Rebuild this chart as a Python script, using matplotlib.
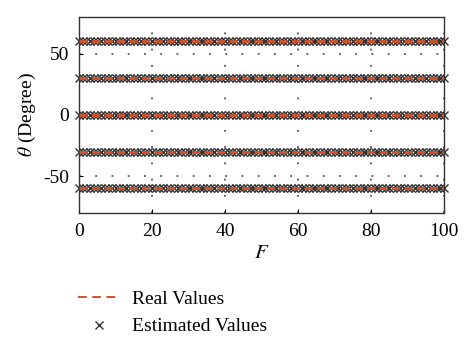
import matplotlib.pyplot as plt
import numpy as np

plt.rcParams['font.family'] = ['Liberation Serif', 'DejaVu Serif']
plt.rcParams['mathtext.fontset'] = 'stix'
plt.rcParams['axes.unicode_minus'] = False

# True DOA angles (degrees) and snapshot index F
angles = [60, 30, 0, -30, -60]
F = np.arange(0, 101)
estimated = [np.full(F.shape, a, dtype=float) for a in angles]

fig = plt.figure(figsize=(4.74, 3.49), dpi=100)
ax = fig.add_axes([0.1667, 0.3897, 0.7703, 0.5616])

for i, a in enumerate(angles):
    ax.plot(F, estimated[i], linestyle='none', marker='x', markersize=5.5,
            markeredgewidth=1.0, color='#333333', zorder=3, clip_on=False,
            label='Estimated Values' if i == 0 else None)
    ax.plot([F[0], F[-1]], [a, a], linestyle='--', dashes=(3, 1.5),
            color='#d4532c', linewidth=2.0, zorder=4,
            label='Real Values' if i == 0 else None)

ax.set_xlim(0, 100)
ax.set_ylim(-80, 80)
ax.set_xticks([0, 20, 40, 60, 80, 100])
ax.set_yticks([-50, 0, 50])
ax.grid(True, linestyle=(0, (1.0, 8)), color='#555555', linewidth=1.3)
ax.tick_params(direction='in', length=3, labelsize=14, pad=7)
for s in ax.spines.values():
    s.set_linewidth(1.0)
    s.set_color('#333333')

ax.set_xlabel('$F$', fontsize=15, labelpad=3)
ax.set_ylabel(r'$\theta$ (Degree)', fontsize=14, labelpad=4)

handles, labels = ax.get_legend_handles_labels()
order = [labels.index('Real Values'), labels.index('Estimated Values')]
leg = fig.legend([handles[k] for k in order], [labels[k] for k in order],
                 loc='upper left', bbox_to_anchor=(0.128, 0.218), frameon=False,
                 fontsize=14, handlelength=2.1, handletextpad=0.65,
                 labelspacing=0.5)
leg.legend_handles[0].set_linewidth(1.4)
leg.legend_handles[0].set_dashes((4.5, 2.8))
leg.legend_handles[1].set_markersize(6)

fig.savefig('out.png', dpi=100)
